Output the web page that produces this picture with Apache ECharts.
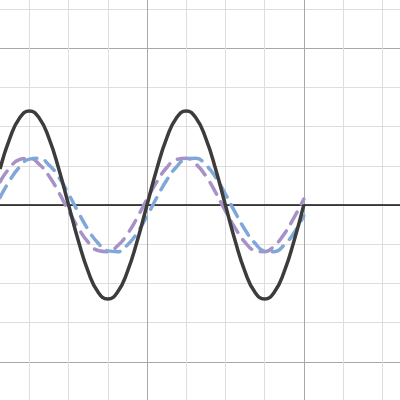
<!DOCTYPE html>
<html><head><meta charset="utf-8">
<script src="https://cdn.jsdelivr.net/npm/echarts@6/dist/echarts.min.js"></script>
<style>html,body{margin:0;padding:0;background:#fff}#c{width:400px;height:400px}</style>
</head><body><div id="c"></div>
<script>
var xs = [-3.75,-3.5,-3.25,-3,-2.75,-2.5,-2.25,-2,-1.75,-1.5,-1.25,-1,-0.75,-0.5,-0.25,0,
          0.25,0.5,0.75,1,1.25,1.5,1.75,2,2.25,2.5,2.75,3,3.25,3.5,3.75,4];
var blackY = [0.92,1.70,2.22,2.4,2.22,1.70,0.92,0,-0.92,-1.70,-2.22,-2.4,-2.22,-1.70,-0.92,0,
              0.92,1.70,2.22,2.4,2.22,1.70,0.92,0,-0.92,-1.70,-2.22,-2.4,-2.22,-1.70,-0.92,0];
var purpleY = [0.59,0.95,1.16,1.19,1.04,0.74,0.32,-0.15,-0.59,-0.95,-1.16,-1.19,-1.04,-0.74,-0.32,0.15,
               0.59,0.95,1.16,1.19,1.04,0.74,0.32,-0.15,-0.59,-0.95,-1.16,-1.19,-1.04,-0.74,-0.32,0.15];
var blueY = [0.19,0.63,0.97,1.17,1.19,1.02,0.71,0.28,-0.19,-0.63,-0.97,-1.17,-1.19,-1.02,-0.71,-0.28,
             0.19,0.63,0.97,1.17,1.19,1.02,0.71,0.28,-0.19,-0.63,-0.97,-1.17,-1.19,-1.02,-0.71,-0.28];

function pairs(ys) {
    return xs.map(function (x, i) { return [x, ys[i]]; });
}

var u = 39.2; // pixels per unit
var myChart = echarts.init(document.getElementById('c'));
var hidden = {axisLabel: {show: false}, axisTick: {show: false}};
var option = {
    animation: false,
    grid: [
        {left: 147 - 4 * u, top: 205 - 6 * u, width: 11 * u, height: 11 * u, outerBoundsMode: 'none', containLabel: false},
        {left: 147 - 4 * u, top: 205 - 8 * u, width: 12 * u, height: 16 * u, outerBoundsMode: 'none', containLabel: false}
    ],
    xAxis: [
        Object.assign({type: 'value', gridIndex: 0, min: -4, max: 7, interval: 1,
            axisLine: {onZero: true, lineStyle: {color: '#111', width: 1.5}},
            splitLine: {lineStyle: {color: '#dedede', width: 1}}}, hidden),
        Object.assign({type: 'value', gridIndex: 1, min: -4, max: 8, interval: 4,
            axisLine: {show: false},
            splitLine: {lineStyle: {color: '#a8a8a8', width: 1}}}, hidden)
    ],
    yAxis: [
        Object.assign({type: 'value', gridIndex: 0, min: -5, max: 6, interval: 1,
            axisLine: {show: false},
            splitLine: {lineStyle: {color: '#dedede', width: 1}}}, hidden),
        Object.assign({type: 'value', gridIndex: 1, min: -8, max: 8, interval: 4,
            axisLine: {show: false},
            splitLine: {lineStyle: {color: '#a8a8a8', width: 1}}}, hidden)
    ],
    series: [
        {type: 'line', data: pairs(purpleY), smooth: true, symbol: 'none',
         lineStyle: {color: '#a692c6', width: 3.5, type: [13, 9], cap: 'round'}},
        {type: 'line', data: pairs(blueY), smooth: true, symbol: 'none',
         lineStyle: {color: '#7fa7d8', width: 3.5, type: [13, 9], cap: 'round'}},
        {type: 'line', data: pairs(blackY), smooth: true, symbol: 'none',
         lineStyle: {color: '#3c3c3c', width: 3.5}}
    ]
};
myChart.setOption(option);
</script>
</body></html>
